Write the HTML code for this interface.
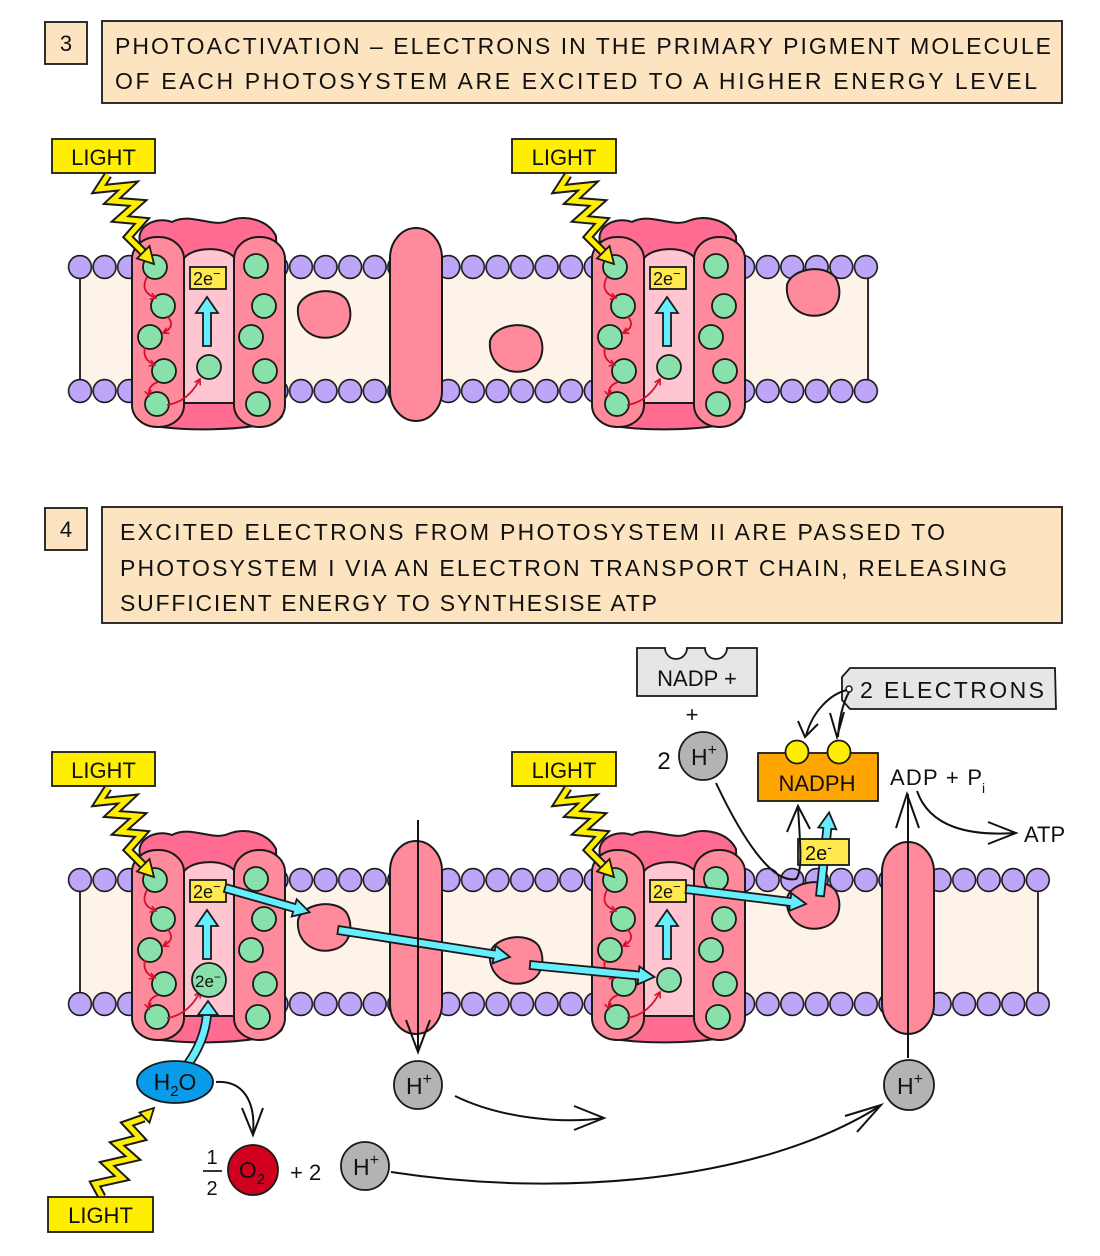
<!DOCTYPE html>
<html><head><meta charset="utf-8">
<style>
html,body{margin:0;padding:0;background:#fff;}
svg{display:block;}
text{font-family:"Liberation Sans",sans-serif;fill:#111;}
</style></head><body>
<svg width="1100" height="1256" viewBox="0 0 1100 1256" xmlns="http://www.w3.org/2000/svg">
<defs>
<pattern id="lip" patternUnits="userSpaceOnUse" x="67.7" y="0" width="24.56" height="1256">
<g fill="#bda5f7" stroke="#1a1a1a" stroke-width="1.6">
<circle cx="12.28" cy="267" r="11.4"/>
<circle cx="12.28" cy="391" r="11.4"/>
<circle cx="12.28" cy="880" r="11.4"/>
<circle cx="12.28" cy="1004" r="11.4"/>
</g>
</pattern>
<marker id="rh" viewBox="0 0 10 10" refX="8" refY="5" markerWidth="8" markerHeight="8" markerUnits="userSpaceOnUse" orient="auto">
<path d="M1,1 L8,5 L1,9" fill="none" stroke="#d4112b" stroke-width="2"/>
</marker>
<path id="blob" d="M-26,-6 C-22,-22 10,-28 22,-14 C30,-2 28,20 8,24 C-10,28 -28,16 -26,-6 Z" fill="#ff8a9c" stroke="#1a1a1a" stroke-width="2"/>
<g id="psb">
<path d="M140,242 C136,226 156,216 172,222 C190,212 212,228 228,221 C246,214 268,220 276,236 L282,416 C276,432 150,434 140,420 Z" fill="#ff6b91" stroke="#1a1a1a" stroke-width="2"/>
<path d="M183,403 L183,260 C190,246 228,245 236,260 L236,403 Z" fill="#ffc5d1" stroke="#1a1a1a" stroke-width="2"/>
<rect x="132" y="237" width="52" height="190" rx="25" ry="22" fill="#ff8a9c" stroke="#1a1a1a" stroke-width="2"/>
<rect x="234" y="237" width="51" height="190" rx="25" ry="22" fill="#ff8a9c" stroke="#1a1a1a" stroke-width="2"/>
<g fill="#88e0aa" stroke="#1a1a1a" stroke-width="1.8">
<circle cx="155" cy="267" r="12"/>
<circle cx="163" cy="306" r="12"/>
<circle cx="150" cy="337" r="12"/>
<circle cx="164" cy="371" r="12"/>
<circle cx="157" cy="404" r="12"/>
<circle cx="209" cy="367" r="12"/>
<circle cx="256" cy="266" r="12"/>
<circle cx="264" cy="306" r="12"/>
<circle cx="251" cy="337" r="12"/>
<circle cx="265" cy="371" r="12"/>
<circle cx="258" cy="404" r="12"/>
</g>
<g fill="none" stroke="#d4112b" stroke-width="1.8" marker-end="url(#rh)">
<path d="M147,277 Q139,292 156,298"/>
<path d="M167,316 Q177,326 163,333"/>
<path d="M145,347 Q142,360 155,365"/>
<path d="M158,382 Q147,386 149,396"/>
<path d="M167,405 Q188,402 200,379"/>
</g>
<polygon points="203,346 211,346 211,313 218,313 207,297 196,313 203,313" fill="#66eeff" stroke="#1a1a1a" stroke-width="1.8"/>
<rect x="190" y="267" width="36" height="22" fill="#ffe94e" stroke="#1a1a1a" stroke-width="1.8"/>
</g>
<g id="zz">
<polyline points="108,175 99,189 128,186 112,201 138,203 120,219 142,221 128,237 145,254" fill="none" stroke="#1a1a1a" stroke-width="9" stroke-linejoin="miter"/>
<polyline points="108,175 99,189 128,186 112,201 138,203 120,219 142,221 128,237 145,254" fill="none" stroke="#ffee00" stroke-width="5" stroke-linejoin="miter"/>
<polygon points="154,264 137,258.5 149.5,246" fill="#ffee00" stroke="#1a1a1a" stroke-width="1.8"/>
</g>
</defs>

<!-- HEADER 3 -->
<rect x="45" y="22" width="42" height="42" fill="#fde4c0" stroke="#1a1a1a" stroke-width="1.8"/>
<text x="66" y="51" font-size="22" text-anchor="middle">3</text>
<rect x="102" y="21" width="960" height="82" fill="#fde4c0" stroke="#1a1a1a" stroke-width="1.8"/>
<text x="115" y="54" font-size="23" textLength="936" lengthAdjust="spacing">PHOTOACTIVATION – ELECTRONS IN THE PRIMARY PIGMENT MOLECULE</text>
<text x="115" y="89" font-size="23" textLength="922" lengthAdjust="spacing">OF EACH PHOTOSYSTEM ARE EXCITED TO A HIGHER ENERGY LEVEL</text>

<!-- MEMBRANE TOP -->
<rect x="80" y="267" width="790" height="124" fill="#fdf3e9"/>
<line x1="80" y1="267" x2="80" y2="391" stroke="#1a1a1a" stroke-width="1.8"/>
<line x1="868" y1="267" x2="868" y2="391" stroke="#1a1a1a" stroke-width="1.8"/>
<rect x="67.7" y="254" width="810.5" height="26" fill="url(#lip)"/>
<rect x="67.7" y="378" width="810.5" height="26" fill="url(#lip)"/>

<rect x="390" y="228" width="52" height="193" rx="26" ry="30" fill="#ff8a9c" stroke="#1a1a1a" stroke-width="2"/>
<use href="#blob" transform="translate(324,313)"/>
<use href="#blob" transform="translate(516,347)"/>
<use href="#blob" transform="translate(813,291)"/>

<use href="#psb"/>
<use href="#psb" x="460"/>
<text x="193" y="285" font-size="18">2e<tspan font-size="13" dy="-7">−</tspan></text>
<text x="653" y="285" font-size="18">2e<tspan font-size="13" dy="-7">−</tspan></text>

<rect x="52" y="139" width="103" height="34" fill="#ffee00" stroke="#1a1a1a" stroke-width="1.8"/>
<text x="103.5" y="165" font-size="22" text-anchor="middle">LIGHT</text>
<rect x="512" y="139" width="104" height="34" fill="#ffee00" stroke="#1a1a1a" stroke-width="1.8"/>
<text x="564" y="165" font-size="22" text-anchor="middle">LIGHT</text>
<use href="#zz"/>
<use href="#zz" x="460"/>

<!-- HEADER 4 -->
<rect x="45" y="508" width="42" height="42" fill="#fde4c0" stroke="#1a1a1a" stroke-width="1.8"/>
<text x="66" y="537" font-size="22" text-anchor="middle">4</text>
<rect x="102" y="507" width="960" height="116" fill="#fde4c0" stroke="#1a1a1a" stroke-width="1.8"/>
<text x="120" y="540" font-size="23" textLength="825" lengthAdjust="spacing">EXCITED ELECTRONS FROM PHOTOSYSTEM II ARE PASSED TO</text>
<text x="120" y="576" font-size="23" textLength="887" lengthAdjust="spacing">PHOTOSYSTEM I VIA AN ELECTRON TRANSPORT CHAIN, RELEASING</text>
<text x="120" y="611" font-size="23" textLength="537" lengthAdjust="spacing">SUFFICIENT ENERGY TO SYNTHESISE ATP</text>

<!-- MEMBRANE BOTTOM -->
<rect x="80" y="880" width="958" height="124" fill="#fdf3e9"/>
<line x1="80" y1="880" x2="80" y2="1004" stroke="#1a1a1a" stroke-width="1.8"/>
<line x1="1038" y1="880" x2="1038" y2="1004" stroke="#1a1a1a" stroke-width="1.8"/>
<rect x="67.7" y="867" width="982.4" height="26" fill="url(#lip)"/>
<rect x="67.7" y="991" width="982.4" height="26" fill="url(#lip)"/>

<rect x="390" y="841" width="52" height="193" rx="26" ry="30" fill="#ff8a9c" stroke="#1a1a1a" stroke-width="2"/>
<rect x="882" y="842" width="52" height="192" rx="26" ry="30" fill="#ff8a9c" stroke="#1a1a1a" stroke-width="2"/>
<use href="#blob" transform="translate(324,926)"/>
<use href="#blob" transform="translate(516,959)"/>
<use href="#blob" transform="translate(813,904)"/>

<use href="#psb" y="613"/>
<use href="#psb" x="460" y="613"/>
<circle cx="209" cy="980" r="17" fill="#88e0aa" stroke="#1a1a1a" stroke-width="1.8"/>
<text x="195" y="987" font-size="17">2e<tspan font-size="12" dy="-6">−</tspan></text>
<text x="193" y="898" font-size="18">2e<tspan font-size="13" dy="-7">−</tspan></text>
<text x="653" y="898" font-size="18">2e<tspan font-size="13" dy="-7">−</tspan></text>

<rect x="52" y="752" width="103" height="34" fill="#ffee00" stroke="#1a1a1a" stroke-width="1.8"/>
<text x="103.5" y="778" font-size="22" text-anchor="middle">LIGHT</text>
<rect x="512" y="752" width="104" height="34" fill="#ffee00" stroke="#1a1a1a" stroke-width="1.8"/>
<text x="564" y="778" font-size="22" text-anchor="middle">LIGHT</text>
<use href="#zz" y="613"/>
<use href="#zz" x="460" y="613"/>

<!-- cyan ETC arrows -->
<g fill="#66eeff" stroke="#1a1a1a" stroke-width="1.8">
<g transform="translate(225,888) rotate(16)"><polygon points="0,-4 72,-4 72,-9 88,0 72,9 72,4 0,4"/></g>
<g transform="translate(338,930) rotate(8.9)"><polygon points="0,-4 158,-4 158,-9 174,0 158,9 158,4 0,4"/></g>
<g transform="translate(530,965) rotate(5.5)"><polygon points="0,-4 109,-4 109,-9 125,0 109,9 109,4 0,4"/></g>
<g transform="translate(686,889) rotate(7.1)"><polygon points="0,-4 105,-4 105,-9 121,0 105,9 105,4 0,4"/></g>
<g transform="translate(820,896) rotate(-83.8)"><polygon points="0,-4 68,-4 68,-9 84,0 68,9 68,4 0,4"/></g>
</g>
<rect x="798" y="839" width="51" height="26" fill="#ffe94e" stroke="#1a1a1a" stroke-width="1.8"/>
<text x="805" y="860" font-size="20">2e<tspan font-size="14" dy="-8">-</tspan></text>

<!-- H2O tube -->
<path d="M188,1064 Q205,1040 207,1014" fill="none" stroke="#1a1a1a" stroke-width="10"/>
<path d="M188,1064 Q205,1040 207,1014" fill="none" stroke="#66eeff" stroke-width="6.5"/>
<polygon points="198,1015 208,1001 218,1015" fill="#66eeff" stroke="#1a1a1a" stroke-width="1.8"/>
<ellipse cx="175" cy="1082" rx="38" ry="21" fill="#0a9be8" stroke="#1a1a1a" stroke-width="1.8"/>
<text x="175" y="1090" font-size="23" text-anchor="middle">H<tspan font-size="15" dy="6">2</tspan><tspan dy="-6">O</tspan></text>

<!-- lower LIGHT -->
<polyline points="102,1197 95,1184 122,1178 107,1164 133,1158 117,1144 140,1138 127,1124 144,1118" fill="none" stroke="#1a1a1a" stroke-width="9"/>
<polyline points="102,1197 95,1184 122,1178 107,1164 133,1158 117,1144 140,1138 127,1124 144,1118" fill="none" stroke="#ffee00" stroke-width="5"/>
<polygon points="154,1108 149.5,1122.5 139.5,1112.5" fill="#ffee00" stroke="#1a1a1a" stroke-width="1.8"/>
<rect x="48" y="1197" width="105" height="35" fill="#ffee00" stroke="#1a1a1a" stroke-width="1.8"/>
<text x="100.5" y="1223" font-size="22" text-anchor="middle">LIGHT</text>

<!-- O2 and H+ -->
<text x="212" y="1164" font-size="20" text-anchor="middle">1</text>
<line x1="203" y1="1171" x2="222" y2="1171" stroke="#1a1a1a" stroke-width="1.8"/>
<text x="212" y="1195" font-size="20" text-anchor="middle">2</text>
<circle cx="253" cy="1170" r="25" fill="#d2001f" stroke="#1a1a1a" stroke-width="1.8"/>
<text x="252" y="1178" font-size="23" text-anchor="middle">O<tspan font-size="15" dy="6">2</tspan></text>
<text x="290" y="1180" font-size="22">+ 2</text>

<g fill="#b3b3b3" stroke="#1a1a1a" stroke-width="1.8">
<circle cx="365" cy="1166" r="24"/>
<circle cx="418" cy="1085" r="24"/>
<circle cx="909" cy="1085" r="25"/>
<circle cx="703" cy="756" r="24"/>
</g>
<text x="366" y="1175" font-size="23" text-anchor="middle">H<tspan font-size="16" dy="-10">+</tspan></text>
<text x="419" y="1094" font-size="23" text-anchor="middle">H<tspan font-size="16" dy="-10">+</tspan></text>
<text x="910" y="1094" font-size="23" text-anchor="middle">H<tspan font-size="16" dy="-10">+</tspan></text>
<text x="704" y="765" font-size="23" text-anchor="middle">H<tspan font-size="16" dy="-10">+</tspan></text>
<text x="664" y="769" font-size="24" text-anchor="middle">2</text>

<!-- NADP+ -->
<path d="M637,648 L665,648 A11,11 0 0 0 687,648 L705,648 A11,11 0 0 0 727,648 L757,648 L757,696 L637,696 Z" fill="#e6e6e6" stroke="#1a1a1a" stroke-width="1.8"/>
<text x="697" y="686" font-size="22" text-anchor="middle">NADP +</text>
<text x="692" y="722" font-size="22" text-anchor="middle">+</text>

<!-- NADPH -->
<rect x="758" y="753" width="120" height="48" fill="#ffa500" stroke="#1a1a1a" stroke-width="1.8"/>
<text x="817" y="791" font-size="22" text-anchor="middle">NADPH</text>
<circle cx="797" cy="752" r="11.5" fill="#ffee00" stroke="#1a1a1a" stroke-width="1.8"/>
<circle cx="839" cy="752" r="11.5" fill="#ffee00" stroke="#1a1a1a" stroke-width="1.8"/>

<!-- 2 ELECTRONS tag -->
<polygon points="850,668 1055,668 1056,709 850,709 842,700 842,677" fill="#e6e6e6" stroke="#1a1a1a" stroke-width="1.8"/>
<circle cx="849" cy="689" r="3" fill="#fff" stroke="#1a1a1a" stroke-width="1.5"/>
<text x="860" y="698" font-size="23" textLength="184" lengthAdjust="spacing">2 ELECTRONS</text>

<text x="890" y="785" font-size="22" textLength="92" lengthAdjust="spacing">ADP + P</text>
<text x="982" y="793" font-size="14">i</text>
<text x="1024" y="842" font-size="22">ATP</text>

<!-- black lines & arrows -->
<g fill="none" stroke="#111" stroke-width="2">
<path d="M847,690 C830,694 812,712 806,736"/>
<path d="M798,721 L805,737 L818,724"/>
<path d="M849,692 C842,705 839,720 838,737"/>
<path d="M830,713 L837,737 L844,712"/>
<path d="M716,783 C742,838 772,884 796,879 C803,872 800,840 798,808"/>
<path d="M787,832 L798,806 L810,829"/>
<path d="M908,1058 L908,794"/>
<path d="M896,828 L907,794 L919,828"/>
<path d="M418,820 L418,1052"/>
<path d="M406,1020 L418,1052 L430,1020"/>
<path d="M455,1096 C500,1118 560,1124 604,1118"/>
<path d="M574,1106 L604,1118 L574,1130"/>
<path d="M391,1172 C560,1198 760,1182 880,1106"/>
<path d="M845,1116 L881,1105 L857,1132"/>
<path d="M216,1082 C242,1080 256,1100 253,1134"/>
<path d="M242,1108 L253,1135 L263,1108"/>
<path d="M917,791 C930,828 970,836 1016,833"/>
<path d="M988,822 L1016,833 L988,844"/>
</g>
</svg>
</body></html>
